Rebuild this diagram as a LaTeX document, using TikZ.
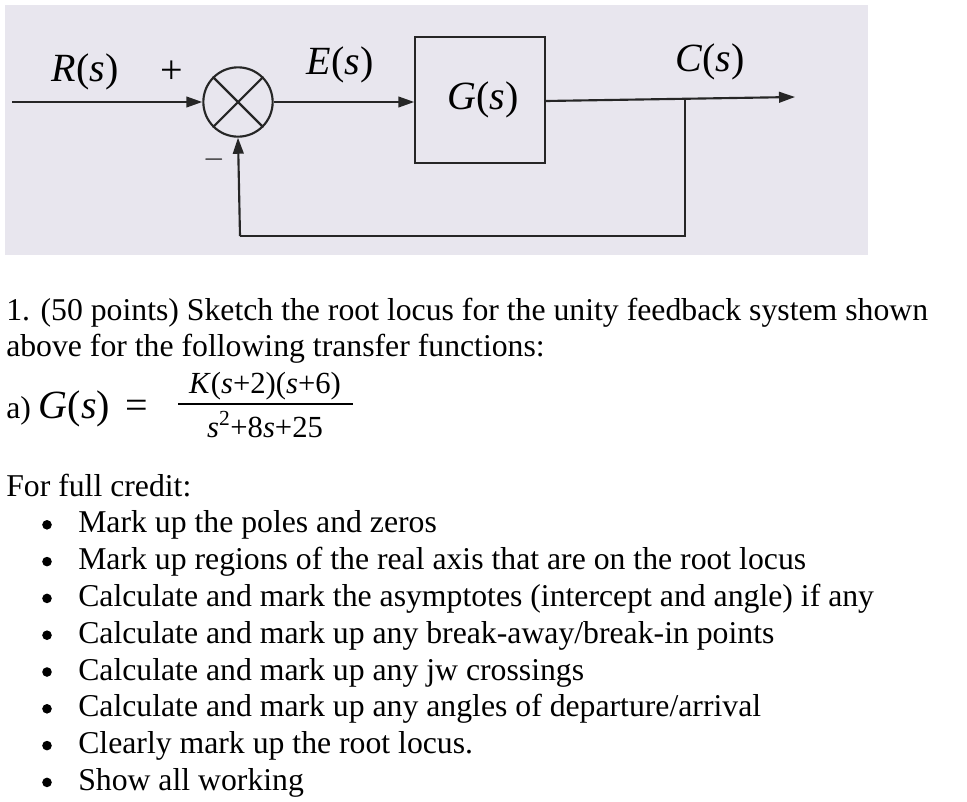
\documentclass[tikz,border=0pt]{standalone}
\usepackage{fontspec}
\setmainfont{Liberation Serif}
\usetikzlibrary{arrows.meta}
\begin{document}
\begin{tikzpicture}[x=0.75pt,y=-0.75pt,
  sig/.style={line width=1.6pt,draw=black!85},
  arr/.style={sig,-{Triangle[length=12pt,width=8pt]}},
  lbl/.style={font=\fontsize{30}{30}\selectfont,inner sep=0pt},
  txt/.style={font=\fontsize{23.8}{23.8}\selectfont,anchor=base west,inner sep=0pt}]
\useasboundingbox[fill=white] (0,0) rectangle (967,801);
\fill[fill={rgb,255:red,232;green,230;blue,238}] (5,5) rectangle (868,255);
% block diagram
\node[lbl] (R) at (85,72) {\textit{R}(\textit{s})};
\node[lbl] (plus) at (172,72) {+};
\node[lbl] (minus) at (214,160) {\fontsize{20}{20}\selectfont $-$};
\node[draw,sig,circle,minimum size=52pt,inner sep=0pt] (sum) at (238,102) {};
\draw[sig] (sum.north west) -- (sum.south east) (sum.north east) -- (sum.south west);
\coordinate (in) at (12,102);
\draw[arr] (in) -- (sum.west);
\node[lbl] (E) at (340,65) {\textit{E}(\textit{s})};
\node[draw,sig,minimum width=97pt,minimum height=94pt] (G) at (480,100) {};
\node[lbl] at (483,100) {\textit{G}(\textit{s})};
\draw[arr] (sum.east) -- (G.west |- sum.east);
\coordinate (out) at (795,97);
\coordinate (tap) at (685,99);
\draw[arr] (G.east |- 0,101) -- (out);
\node[lbl] (C) at (710,62) {\textit{C}(\textit{s})};
\coordinate (fb1) at (685,236);
\coordinate (fb2) at (240,236);
\draw[sig] (tap) -- (fb1) -- (fb2);
\draw[arr] (fb2) -- (sum.south);
% text
\node[txt] (l1) at (6,320) {1. (50 points) Sketch the root locus for the unity feedback system shown};
\node[txt] (l2) at (6,356) {above for the following transfer functions:};
\node[txt] (a) at (6,418) {a) {\fontsize{30}{30}\selectfont \textit{G}(\textit{s})}};
\node[txt] (eq) at (125,418) {\fontsize{30}{30}\selectfont =};
\node[inner sep=0pt,font=\fontsize{23}{23}\selectfont] (num) at (265,386) {\textit{K}(\textit{s}+2)(\textit{s}+6)};
\node[inner sep=0pt,font=\fontsize{23}{23}\selectfont] (den) at (265,425) {\textit{s}\textsuperscript{2}+8\textit{s}+25};
\draw[line width=0.8pt] (178,404) -- (353,404);
\node[txt] (fc) at (6,496) {For full credit:};
\foreach \t [count=\i] in {Mark up the poles and zeros,
  Mark up regions of the real axis that are on the root locus,
  Calculate and mark the asymptotes (intercept and angle) if any,
  Calculate and mark up any break-away/break-in points,
  Calculate and mark up any jw crossings,
  Calculate and mark up any angles of departure/arrival,
  Clearly mark up the root locus.,
  Show all working}
{
  \fill (47,488+\i*36.8) circle (4.8);
  \node[txt] (t\i) at (78,496+\i*36.8) {\t};
}
\end{tikzpicture}
\end{document}
